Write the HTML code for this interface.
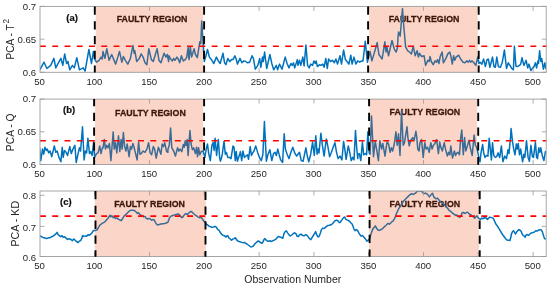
<!DOCTYPE html>
<html><head><meta charset="utf-8"><title>PCA monitoring charts</title>
<style>html,body{margin:0;padding:0;background:#fff}svg{display:block}text{font-family:"Liberation Sans", Arial, sans-serif}</style></head><body>
<svg width="550" height="286" viewBox="0 0 550 286">
<rect width="550" height="286" fill="#fff"/>
<g id="ax0">
<clipPath id="cp0"><rect x="40.0" y="6.4" width="506.20000000000005" height="65.89999999999999"/></clipPath>
<text x="116.7" y="22.1" font-size="9.8" font-weight="bold" fill="#000" stroke="#000" stroke-width="0.3" textLength="70.7" lengthAdjust="spacingAndGlyphs">FAULTY REGION</text>
<text x="388.7" y="22.1" font-size="9.8" font-weight="bold" fill="#000" stroke="#000" stroke-width="0.3" textLength="70.7" lengthAdjust="spacingAndGlyphs">FAULTY REGION</text>
<polyline clip-path="url(#cp0)" points="39.9,69.8 44.0,62.2 46.9,68.5 50.7,65.4 53.9,58.4 55.8,67.9 58.4,62.8 60.9,58.4 62.8,65.4 64.7,53.9 66.6,63.5 67.9,61.5 69.8,69.8 72.4,65.4 74.3,67.9 76.8,57.7 79.4,69.8 83.2,67.9 85.1,71.1 88.9,49.5 91.5,63.5 93.4,51.4 94.6,59.0 96.5,62.2 99.1,60.3 101.0,57.1 102.3,59.0 103.0,51.4 104.9,58.4 106.8,48.8 109.1,60.3 111.7,54.5 113.8,59.6 115.7,64.1 119.5,51.4 121.8,62.2 123.4,56.5 125.3,60.3 127.8,64.1 130.4,58.4 132.9,45.6 134.2,53.3 134.8,50.7 136.7,61.5 139.3,58.4 141.2,53.9 143.1,57.1 145.0,62.8 146.9,64.7 148.8,48.8 151.4,59.6 153.3,61.5 157.1,48.8 159.0,60.3 160.9,62.8 164.1,53.3 166.0,57.1 167.3,54.5 168.6,61.5 169.0,55.8 170.6,59.0 172.4,60.9 173.7,58.4 175.0,60.3 176.9,57.1 178.2,59.0 179.7,62.8 181.4,55.8 183.3,60.9 185.2,59.6 186.8,57.1 188.1,47.5 189.0,59.6 190.3,46.9 191.6,57.1 194.1,48.8 195.4,54.5 197.3,57.7 199.8,41.8 200.8,43.7 201.7,21.1 204.3,61.5 205.6,57.1 207.5,49.5 209.4,57.1 211.9,60.3 213.8,63.5 216.4,57.1 218.3,60.9 220.2,63.5 223.0,53.3 224.6,62.8 225.9,64.7 227.8,58.4 229.7,61.5 231.6,59.6 233.0,59.6 234.9,55.8 236.2,59.0 237.4,64.1 240.0,58.4 241.9,62.8 243.8,60.9 245.7,61.5 247.6,62.8 249.6,62.2 252.1,55.8 253.4,58.4 255.3,69.2 257.8,65.4 259.7,58.4 260.8,67.3 262.5,57.1 263.3,61.5 264.6,52.0 266.7,68.5 269.9,54.5 271.8,63.5 273.7,69.8 276.3,65.4 277.6,69.8 279.5,64.1 282.0,69.2 285.2,57.1 287.1,63.5 289.0,67.9 290.9,63.5 292.2,65.4 293.5,62.8 294.7,67.9 297.3,59.6 298.0,65.4 299.5,60.3 300.8,65.4 302.8,57.1 304.1,66.0 305.9,45.0 307.6,65.4 309.2,67.9 310.7,64.1 312.6,65.4 313.9,60.9 315.2,63.5 316.1,60.9 317.4,66.6 319.4,64.7 320.9,65.4 322.8,64.1 324.1,67.3 325.8,58.4 327.3,68.5 328.6,59.0 330.5,61.5 332.4,60.3 334.3,62.8 335.9,59.0 337.5,64.1 340.0,55.8 341.5,64.1 343.6,50.1 345.4,59.6 347.0,61.5 348.9,64.1 350.8,55.2 352.1,64.1 354.0,57.1 355.9,64.1 357.8,60.9 359.7,62.2 361.6,60.9 363.0,60.9 365.3,41.2 367.4,62.2 370.0,51.4 371.9,60.9 375.1,50.1 377.2,42.5 378.9,54.5 382.1,59.0 384.9,41.8 385.9,52.0 386.9,46.9 388.5,55.8 392.0,40.5 394.2,48.8 396.1,52.0 397.4,48.2 398.0,37.4 398.6,31.9 400.2,36.1 402.5,8.5 403.7,25.3 405.6,46.9 407.6,50.7 409.5,52.0 411.4,53.9 413.3,46.3 415.2,55.8 417.1,50.7 418.4,57.1 419.6,53.3 421.6,56.5 424.1,55.8 425.6,65.4 427.9,60.3 429.2,61.5 430.0,56.5 431.3,61.5 433.2,64.7 435.1,60.9 436.4,62.2 437.6,59.6 438.9,63.5 440.2,56.5 442.1,52.0 443.4,62.8 445.9,58.4 447.8,53.9 449.7,52.0 451.0,56.5 452.3,64.1 453.6,55.8 454.8,60.3 456.1,57.1 458.6,55.2 460.6,59.0 463.1,62.2 465.0,62.8 466.9,60.9 468.2,62.2 469.5,60.3 470.7,62.2 472.0,60.9 473.9,62.8 475.8,65.4 477.7,57.1 479.0,63.5 480.0,62.2 481.9,64.1 483.6,59.0 485.4,66.6 487.0,59.6 488.3,59.0 489.9,67.3 492.5,57.1 494.0,66.6 495.3,67.3 496.8,57.1 498.4,66.6 500.4,67.3 502.3,62.2 504.4,50.1 506.5,68.5 508.3,62.8 509.9,65.4 511.8,68.5 513.4,69.8 514.4,46.3 515.9,66.0 517.5,66.6 519.5,65.4 520.7,64.1 522.0,57.7 523.9,65.4 524.8,63.5 526.1,60.3 527.7,67.9 529.0,64.1 530.9,70.5 532.8,67.9 534.1,66.6 535.4,62.8 536.6,67.9 537.9,60.9 538.5,63.5 539.6,50.7 540.8,61.5 541.7,58.4 543.4,69.2 544.9,62.8 545.9,69.2" fill="none" stroke="#0072BD" stroke-width="1.5" stroke-linejoin="round"/>
<rect x="95.7" y="6.4" width="107.4" height="65.89999999999999" fill="#EE5C22" fill-opacity="0.25"/>
<rect x="369.1" y="6.4" width="108.6" height="65.89999999999999" fill="#EE5C22" fill-opacity="0.25"/>
<line x1="40.0" y1="46.3" x2="546.2" y2="46.3" stroke="#FF0000" stroke-width="1.6" stroke-dasharray="5.9 6.36"/>
<rect x="40.0" y="6.4" width="506.20000000000005" height="65.89999999999999" fill="none" stroke="#9c9c9c" stroke-width="0.9"/>
<text x="39.6" y="84.7" font-size="9.6" text-anchor="middle" fill="#262626">50</text>
<line x1="94.7" y1="72.3" x2="94.7" y2="67.8" stroke="#999999" stroke-width="0.8"/>
<line x1="94.7" y1="6.4" x2="94.7" y2="10.9" stroke="#999999" stroke-width="0.8"/>
<text x="94.4" y="84.7" font-size="9.6" text-anchor="middle" fill="#262626">100</text>
<line x1="149.5" y1="72.3" x2="149.5" y2="67.8" stroke="#999999" stroke-width="0.8"/>
<line x1="149.5" y1="6.4" x2="149.5" y2="10.9" stroke="#999999" stroke-width="0.8"/>
<text x="149.2" y="84.7" font-size="9.6" text-anchor="middle" fill="#262626">150</text>
<line x1="204.3" y1="72.3" x2="204.3" y2="67.8" stroke="#999999" stroke-width="0.8"/>
<line x1="204.3" y1="6.4" x2="204.3" y2="10.9" stroke="#999999" stroke-width="0.8"/>
<text x="204.0" y="84.7" font-size="9.6" text-anchor="middle" fill="#262626">200</text>
<line x1="259.1" y1="72.3" x2="259.1" y2="67.8" stroke="#999999" stroke-width="0.8"/>
<line x1="259.1" y1="6.4" x2="259.1" y2="10.9" stroke="#999999" stroke-width="0.8"/>
<text x="258.8" y="84.7" font-size="9.6" text-anchor="middle" fill="#262626">250</text>
<line x1="313.9" y1="72.3" x2="313.9" y2="67.8" stroke="#999999" stroke-width="0.8"/>
<line x1="313.9" y1="6.4" x2="313.9" y2="10.9" stroke="#999999" stroke-width="0.8"/>
<text x="313.6" y="84.7" font-size="9.6" text-anchor="middle" fill="#262626">300</text>
<line x1="368.7" y1="72.3" x2="368.7" y2="67.8" stroke="#999999" stroke-width="0.8"/>
<line x1="368.7" y1="6.4" x2="368.7" y2="10.9" stroke="#999999" stroke-width="0.8"/>
<text x="368.4" y="84.7" font-size="9.6" text-anchor="middle" fill="#262626">350</text>
<line x1="423.5" y1="72.3" x2="423.5" y2="67.8" stroke="#999999" stroke-width="0.8"/>
<line x1="423.5" y1="6.4" x2="423.5" y2="10.9" stroke="#999999" stroke-width="0.8"/>
<text x="423.2" y="84.7" font-size="9.6" text-anchor="middle" fill="#262626">400</text>
<line x1="478.3" y1="72.3" x2="478.3" y2="67.8" stroke="#999999" stroke-width="0.8"/>
<line x1="478.3" y1="6.4" x2="478.3" y2="10.9" stroke="#999999" stroke-width="0.8"/>
<text x="478.0" y="84.7" font-size="9.6" text-anchor="middle" fill="#262626">450</text>
<line x1="533.1" y1="72.3" x2="533.1" y2="67.8" stroke="#999999" stroke-width="0.8"/>
<line x1="533.1" y1="6.4" x2="533.1" y2="10.9" stroke="#999999" stroke-width="0.8"/>
<text x="532.8" y="84.7" font-size="9.6" text-anchor="middle" fill="#262626">500</text>
<line x1="40.0" y1="6.4" x2="44.5" y2="6.4" stroke="#999999" stroke-width="0.8"/>
<line x1="546.2" y1="6.4" x2="541.7" y2="6.4" stroke="#999999" stroke-width="0.8"/>
<text x="36.2" y="10.0" font-size="9.6" text-anchor="end" fill="#262626">0.7</text>
<line x1="40.0" y1="39.2" x2="44.5" y2="39.2" stroke="#999999" stroke-width="0.8"/>
<line x1="546.2" y1="39.2" x2="541.7" y2="39.2" stroke="#999999" stroke-width="0.8"/>
<text x="36.2" y="42.8" font-size="9.6" text-anchor="end" fill="#262626">0.65</text>
<line x1="40.0" y1="72.3" x2="44.5" y2="72.3" stroke="#999999" stroke-width="0.8"/>
<line x1="546.2" y1="72.3" x2="541.7" y2="72.3" stroke="#999999" stroke-width="0.8"/>
<text x="36.2" y="75.9" font-size="9.6" text-anchor="end" fill="#262626">0.6</text>
<line x1="94.8" y1="6.4" x2="94.8" y2="72.5" stroke="#000" stroke-width="1.9" stroke-dasharray="8.3 6.5" stroke-dashoffset="0"/>
<line x1="204.1" y1="6.4" x2="204.1" y2="72.5" stroke="#000" stroke-width="1.9" stroke-dasharray="8.3 6.5" stroke-dashoffset="0"/>
<line x1="368.1" y1="6.4" x2="368.1" y2="72.5" stroke="#000" stroke-width="1.9" stroke-dasharray="8.3 6.5" stroke-dashoffset="0"/>
<line x1="478.7" y1="6.4" x2="478.7" y2="72.5" stroke="#000" stroke-width="1.9" stroke-dasharray="8.3 6.5" stroke-dashoffset="0"/>
<text x="66.3" y="21.0" font-size="9.5" font-weight="bold" fill="#111" stroke="#111" stroke-width="0.2">(a)</text>
<text transform="translate(13.7,59.5) rotate(-90)" font-size="10" fill="#262626" textLength="35.3" lengthAdjust="spacingAndGlyphs">PCA - T</text>
<text transform="translate(8.9,23.4) rotate(-90)" font-size="8.2" fill="#262626">2</text>
</g>
<g id="ax1">
<clipPath id="cp1"><rect x="40.0" y="99.1" width="506.20000000000005" height="65.4"/></clipPath>
<text x="115.1" y="115.7" font-size="9.8" font-weight="bold" fill="#000" stroke="#000" stroke-width="0.3" textLength="70.7" lengthAdjust="spacingAndGlyphs">FAULTY REGION</text>
<text x="389.5" y="114.8" font-size="9.8" font-weight="bold" fill="#000" stroke="#000" stroke-width="0.3" textLength="70.7" lengthAdjust="spacingAndGlyphs">FAULTY REGION</text>
<polyline clip-path="url(#cp1)" points="39.5,147.2 40.8,160.6 42.5,149.1 43.7,154.2 45.0,147.2 46.3,150.4 47.2,149.1 48.8,152.9 50.1,151.0 51.8,156.7 54.3,145.9 55.8,152.3 57.1,151.0 59.0,157.4 60.9,161.8 62.2,147.2 63.2,157.4 64.5,150.4 66.0,152.3 67.5,155.5 69.8,146.6 71.3,153.6 73.0,149.1 74.9,145.3 76.2,162.5 78.1,153.6 79.4,147.8 80.6,151.0 82.5,126.7 84.1,159.9 85.3,151.0 86.6,152.9 87.9,138.3 89.5,153.6 90.8,151.6 92.1,155.5 93.6,142.1 94.6,157.4 96.5,153.6 98.1,152.9 99.7,145.9 101.0,153.6 102.3,147.8 103.0,147.8 104.3,139.6 105.5,149.1 106.8,145.3 108.1,147.8 109.4,143.4 110.9,160.6 113.2,131.9 114.2,149.1 115.5,142.7 116.8,152.9 118.5,135.7 119.8,151.6 121.1,139.6 122.1,149.1 123.4,132.6 124.6,146.6 125.9,151.0 127.2,144.0 129.1,156.7 130.4,146.6 131.6,149.1 132.9,143.4 134.2,147.8 137.1,159.9 138.6,142.1 139.9,154.2 141.2,153.6 143.1,151.0 145.0,152.3 146.9,149.1 148.6,142.7 150.1,152.9 151.6,154.8 153.3,146.6 154.6,149.1 156.2,158.0 158.4,147.2 159.6,150.4 160.9,154.2 162.2,144.0 163.5,146.6 164.7,142.7 166.6,151.6 167.9,152.3 168.0,149.1 169.3,145.3 170.6,128.1 171.8,147.8 173.7,151.0 175.4,156.1 177.6,147.8 178.8,151.0 180.1,149.1 181.8,151.6 183.3,144.6 184.3,147.2 185.2,140.8 186.1,145.3 187.1,139.6 188.1,155.5 189.9,130.6 191.2,144.6 192.4,149.7 193.7,147.8 195.4,153.6 196.6,147.2 197.5,156.7 198.6,147.8 199.8,154.8 201.1,151.6 203.0,151.0 204.9,157.4 206.2,149.1 207.5,144.0 208.7,153.6 210.3,160.6 211.9,145.3 213.2,142.7 214.1,150.4 215.1,138.3 216.6,155.5 218.3,139.6 219.6,157.4 220.4,161.2 222.1,155.5 224.0,141.4 225.3,154.2 226.3,152.3 227.8,157.4 229.7,157.4 231.0,158.6 233.0,145.9 234.0,147.2 235.3,160.6 236.2,151.6 237.4,161.2 239.1,156.1 240.4,151.6 241.7,160.6 242.9,151.0 244.4,157.4 245.7,156.1 247.6,154.8 248.5,159.3 250.2,146.6 251.4,155.5 252.7,152.9 254.0,151.0 255.7,145.9 257.8,152.9 259.7,158.0 261.3,160.6 262.9,154.2 264.4,121.6 266.4,161.2 268.0,154.2 269.9,149.7 271.8,160.6 273.5,153.6 275.0,152.3 276.3,155.5 277.8,149.1 279.5,156.1 280.7,159.9 282.6,162.5 284.2,133.8 285.4,149.1 287.1,154.2 289.0,158.6 290.9,152.3 292.8,147.2 294.7,152.9 296.6,156.1 298.0,154.2 299.5,152.3 301.2,160.6 303.1,161.2 304.6,154.2 305.9,147.8 307.2,155.5 308.8,161.8 310.7,154.2 312.6,142.1 314.3,155.5 315.8,135.7 317.1,154.2 318.1,149.1 319.0,152.9 320.9,133.2 322.2,144.0 324.1,156.1 326.3,138.9 327.9,146.6 329.6,156.7 331.4,152.3 333.0,147.8 334.9,142.7 336.4,151.6 338.1,158.6 340.0,156.1 341.9,159.9 343.6,141.4 344.8,149.1 346.1,159.3 348.3,145.9 349.6,151.6 351.2,160.6 352.7,157.4 354.0,159.9 355.5,130.6 356.8,149.1 357.8,158.6 358.0,154.2 359.3,153.6 360.8,160.6 362.4,142.1 363.7,154.8 365.4,153.6 366.6,154.8 367.9,131.8 369.2,152.9 370.1,154.2 371.5,115.9 373.5,156.7 375.2,141.4 376.8,150.4 378.4,160.6 379.9,140.8 381.6,149.1 382.8,143.4 385.0,156.1 387.0,142.1 388.6,144.0 390.1,152.3 391.4,147.8 392.6,151.0 394.3,144.0 395.9,131.8 397.2,145.3 398.5,133.8 400.0,155.5 401.5,110.9 403.2,145.3 404.5,142.7 407.0,126.7 407.9,137.6 409.2,145.9 410.8,140.2 412.7,137.6 414.0,140.8 415.9,131.3 416.8,137.6 417.8,149.1 419.1,151.0 420.0,142.7 421.5,139.6 423.2,157.4 424.8,142.7 426.1,149.1 427.6,147.2 429.2,152.3 430.8,142.7 432.1,149.1 433.4,145.3 435.0,143.4 436.6,139.6 438.4,153.6 439.7,142.1 441.0,147.8 442.3,151.0 444.2,142.7 445.5,149.1 447.4,156.1 448.6,152.3 449.9,154.8 450.8,145.9 452.5,158.0 454.4,151.0 455.6,155.5 456.9,152.9 458.2,152.3 459.5,154.8 460.7,137.6 461.8,130.0 463.3,154.8 464.6,137.6 465.8,151.0 467.4,145.9 469.0,140.2 470.3,147.8 472.2,155.5 474.1,135.1 475.4,145.3 476.6,147.2 477.9,152.9 479.6,161.2 480.0,161.8 481.0,152.9 482.6,144.6 483.8,153.6 485.1,157.4 486.4,155.5 487.9,156.1 489.2,138.3 491.4,159.9 492.5,142.7 493.8,155.5 495.3,157.4 496.6,156.7 498.1,152.9 499.7,157.4 501.4,145.9 502.9,161.8 504.8,156.1 506.5,158.6 508.0,149.7 509.0,153.6 510.6,136.4 511.1,128.6 512.5,141.4 513.7,149.1 515.0,154.8 516.3,144.0 517.2,149.1 518.2,143.4 519.5,154.8 520.7,149.1 522.6,161.8 523.9,154.2 524.8,157.4 526.5,140.8 528.1,157.4 529.4,161.2 530.9,145.3 532.4,156.7 533.5,157.4 535.4,142.1 536.6,157.4 537.5,158.6 538.8,147.8 539.8,152.3 540.8,147.8 542.4,156.1 543.9,160.6 545.5,151.0" fill="none" stroke="#0072BD" stroke-width="1.5" stroke-linejoin="round"/>
<rect x="95.0" y="99.1" width="108.0" height="65.4" fill="#EE5C22" fill-opacity="0.25"/>
<rect x="369.8" y="99.1" width="107.2" height="65.4" fill="#EE5C22" fill-opacity="0.25"/>
<line x1="40.0" y1="140.8" x2="546.2" y2="140.8" stroke="#FF0000" stroke-width="1.6" stroke-dasharray="5.9 6.36"/>
<rect x="40.0" y="99.1" width="506.20000000000005" height="65.4" fill="none" stroke="#9c9c9c" stroke-width="0.9"/>
<text x="39.6" y="176.9" font-size="9.6" text-anchor="middle" fill="#262626">50</text>
<line x1="94.7" y1="164.5" x2="94.7" y2="160.0" stroke="#999999" stroke-width="0.8"/>
<line x1="94.7" y1="99.1" x2="94.7" y2="103.6" stroke="#999999" stroke-width="0.8"/>
<text x="94.4" y="176.9" font-size="9.6" text-anchor="middle" fill="#262626">100</text>
<line x1="149.5" y1="164.5" x2="149.5" y2="160.0" stroke="#999999" stroke-width="0.8"/>
<line x1="149.5" y1="99.1" x2="149.5" y2="103.6" stroke="#999999" stroke-width="0.8"/>
<text x="149.2" y="176.9" font-size="9.6" text-anchor="middle" fill="#262626">150</text>
<line x1="204.3" y1="164.5" x2="204.3" y2="160.0" stroke="#999999" stroke-width="0.8"/>
<line x1="204.3" y1="99.1" x2="204.3" y2="103.6" stroke="#999999" stroke-width="0.8"/>
<text x="204.0" y="176.9" font-size="9.6" text-anchor="middle" fill="#262626">200</text>
<line x1="259.1" y1="164.5" x2="259.1" y2="160.0" stroke="#999999" stroke-width="0.8"/>
<line x1="259.1" y1="99.1" x2="259.1" y2="103.6" stroke="#999999" stroke-width="0.8"/>
<text x="258.8" y="176.9" font-size="9.6" text-anchor="middle" fill="#262626">250</text>
<line x1="313.9" y1="164.5" x2="313.9" y2="160.0" stroke="#999999" stroke-width="0.8"/>
<line x1="313.9" y1="99.1" x2="313.9" y2="103.6" stroke="#999999" stroke-width="0.8"/>
<text x="313.6" y="176.9" font-size="9.6" text-anchor="middle" fill="#262626">300</text>
<line x1="368.7" y1="164.5" x2="368.7" y2="160.0" stroke="#999999" stroke-width="0.8"/>
<line x1="368.7" y1="99.1" x2="368.7" y2="103.6" stroke="#999999" stroke-width="0.8"/>
<text x="368.4" y="176.9" font-size="9.6" text-anchor="middle" fill="#262626">350</text>
<line x1="423.5" y1="164.5" x2="423.5" y2="160.0" stroke="#999999" stroke-width="0.8"/>
<line x1="423.5" y1="99.1" x2="423.5" y2="103.6" stroke="#999999" stroke-width="0.8"/>
<text x="423.2" y="176.9" font-size="9.6" text-anchor="middle" fill="#262626">400</text>
<line x1="478.3" y1="164.5" x2="478.3" y2="160.0" stroke="#999999" stroke-width="0.8"/>
<line x1="478.3" y1="99.1" x2="478.3" y2="103.6" stroke="#999999" stroke-width="0.8"/>
<text x="478.0" y="176.9" font-size="9.6" text-anchor="middle" fill="#262626">450</text>
<line x1="533.1" y1="164.5" x2="533.1" y2="160.0" stroke="#999999" stroke-width="0.8"/>
<line x1="533.1" y1="99.1" x2="533.1" y2="103.6" stroke="#999999" stroke-width="0.8"/>
<text x="532.8" y="176.9" font-size="9.6" text-anchor="middle" fill="#262626">500</text>
<line x1="40.0" y1="99.1" x2="44.5" y2="99.1" stroke="#999999" stroke-width="0.8"/>
<line x1="546.2" y1="99.1" x2="541.7" y2="99.1" stroke="#999999" stroke-width="0.8"/>
<text x="36.2" y="102.1" font-size="9.6" text-anchor="end" fill="#262626">0.7</text>
<line x1="40.0" y1="131.8" x2="44.5" y2="131.8" stroke="#999999" stroke-width="0.8"/>
<line x1="546.2" y1="131.8" x2="541.7" y2="131.8" stroke="#999999" stroke-width="0.8"/>
<text x="36.2" y="134.8" font-size="9.6" text-anchor="end" fill="#262626">0.65</text>
<line x1="40.0" y1="164.5" x2="44.5" y2="164.5" stroke="#999999" stroke-width="0.8"/>
<line x1="546.2" y1="164.5" x2="541.7" y2="164.5" stroke="#999999" stroke-width="0.8"/>
<text x="36.2" y="167.5" font-size="9.6" text-anchor="end" fill="#262626">0.6</text>
<line x1="94.1" y1="99.1" x2="94.1" y2="164.7" stroke="#000" stroke-width="1.9" stroke-dasharray="8.3 6.5" stroke-dashoffset="1.2"/>
<line x1="204.1" y1="99.1" x2="204.1" y2="164.7" stroke="#000" stroke-width="1.9" stroke-dasharray="8.3 6.5" stroke-dashoffset="1.2"/>
<line x1="369.1" y1="99.1" x2="369.1" y2="164.7" stroke="#000" stroke-width="1.9" stroke-dasharray="8.3 6.5" stroke-dashoffset="1.2"/>
<line x1="478.2" y1="99.1" x2="478.2" y2="164.7" stroke="#000" stroke-width="1.9" stroke-dasharray="8.3 6.5" stroke-dashoffset="1.2"/>
<text x="63.1" y="113.0" font-size="9.5" font-weight="bold" fill="#111" stroke="#111" stroke-width="0.2">(b)</text>
<text transform="translate(14.0,132.3) rotate(-90)" font-size="10.3" fill="#262626" text-anchor="middle">PCA - Q</text>
</g>
<g id="ax2">
<clipPath id="cp2"><rect x="40.0" y="191.0" width="506.20000000000005" height="65.5"/></clipPath>
<text x="114.2" y="206.6" font-size="9.8" font-weight="bold" fill="#000" stroke="#000" stroke-width="0.3" textLength="70.7" lengthAdjust="spacingAndGlyphs">FAULTY REGION</text>
<text x="389.5" y="206.9" font-size="9.8" font-weight="bold" fill="#000" stroke="#000" stroke-width="0.3" textLength="70.7" lengthAdjust="spacingAndGlyphs">FAULTY REGION</text>
<polyline clip-path="url(#cp2)" points="39.9,235.9 41.8,236.8 43.7,237.8 45.4,238.1 46.6,238.7 48.2,237.8 49.7,237.8 51.4,236.8 53.0,236.2 54.5,235.2 55.8,233.9 57.1,232.4 58.1,234.7 59.4,235.6 60.6,236.8 61.9,235.6 63.2,237.2 64.7,236.8 66.0,238.1 67.5,239.4 69.2,238.7 70.8,239.4 72.4,240.6 73.9,239.0 75.2,240.3 76.4,241.5 78.1,242.6 79.4,241.0 80.6,240.6 81.9,238.1 82.5,235.6 83.8,236.4 85.3,235.9 86.6,236.2 87.9,234.7 89.2,235.3 90.4,234.3 91.7,233.4 93.0,231.1 94.0,230.4 95.9,230.4 97.2,229.8 98.5,227.3 99.7,225.4 101.6,223.7 104.5,222.2 106.2,220.3 107.8,218.4 109.1,216.8 110.0,215.2 110.9,216.8 111.9,215.8 113.2,217.7 114.5,217.1 115.7,218.4 117.2,218.1 118.5,219.4 119.8,219.9 121.1,220.7 122.3,219.0 123.4,217.1 124.4,215.8 125.7,214.6 127.2,213.3 128.5,211.8 130.0,210.5 131.6,210.3 133.3,210.2 134.8,210.7 136.1,212.0 137.4,213.5 138.4,212.6 139.7,214.3 140.9,215.2 142.5,215.8 143.7,216.8 145.0,216.4 146.3,218.4 147.6,219.0 149.1,218.4 150.3,219.0 151.6,220.3 152.9,219.6 154.2,219.9 155.2,222.2 156.5,224.1 157.7,225.0 159.3,224.5 160.9,224.1 162.8,223.8 164.7,223.5 166.6,222.8 167.9,222.2 169.3,218.4 170.6,216.4 172.1,215.8 173.7,215.2 175.4,214.8 176.9,214.3 178.4,213.9 179.7,215.2 180.7,216.4 182.0,217.7 183.3,216.4 184.6,214.3 186.1,213.5 187.3,214.6 188.6,213.3 189.9,212.0 190.9,211.4 192.2,212.2 193.5,213.5 195.0,214.8 196.6,215.8 198.3,217.1 199.8,217.7 201.1,217.1 202.4,219.0 203.6,220.9 204.9,222.2 206.2,224.1 207.5,224.7 208.7,226.0 210.3,226.6 211.9,227.3 213.6,227.0 215.0,226.3 216.3,227.2 217.6,229.4 218.8,230.1 220.1,232.2 221.6,234.3 222.9,235.2 224.6,235.8 225.8,237.1 227.1,235.8 227.7,235.6 229.0,238.1 230.3,239.0 231.6,240.3 232.8,239.0 234.1,238.6 235.4,237.7 236.4,239.6 237.7,240.9 239.2,241.6 240.5,241.9 242.0,242.4 243.3,242.8 244.5,242.4 245.8,243.5 247.1,244.1 248.3,245.0 249.6,246.0 250.9,247.0 252.2,246.6 253.4,246.0 254.7,244.1 256.0,242.8 257.3,241.6 258.3,240.9 259.6,241.9 260.8,242.8 262.1,243.2 263.1,241.6 264.0,239.6 264.9,238.6 265.9,239.9 267.2,240.9 268.5,241.2 270.0,240.7 271.3,241.6 272.5,240.9 273.8,240.3 275.1,239.6 276.4,238.6 277.6,237.3 278.6,236.4 279.9,237.1 281.5,237.5 282.8,238.3 283.8,234.1 285.1,231.6 286.4,230.9 287.6,232.8 288.9,234.7 290.2,236.0 291.7,235.0 293.4,233.5 294.6,232.8 295.9,233.7 297.2,236.3 298.4,236.6 299.7,234.7 301.0,234.1 302.6,235.4 304.2,235.8 305.5,234.7 306.7,235.0 308.0,236.6 309.5,238.6 310.8,239.6 312.1,237.5 313.4,235.4 314.6,233.5 315.6,231.6 316.7,234.7 317.9,237.0 319.2,236.3 320.5,232.8 321.4,229.6 322.6,228.1 323.9,228.6 325.2,227.7 326.5,226.4 327.7,225.6 329.4,225.2 330.9,224.8 332.4,223.9 333.7,222.2 335.0,220.7 336.6,220.1 337.9,220.7 339.2,222.6 340.0,222.5 341.3,220.8 342.6,218.9 343.8,217.4 344.8,217.0 345.7,219.2 347.0,219.9 348.3,220.4 349.6,221.4 350.8,222.7 352.1,224.0 353.0,226.3 354.0,229.1 355.0,230.6 356.3,229.7 357.6,230.4 358.8,232.9 360.1,234.8 361.0,236.1 362.3,235.5 363.6,236.7 364.8,238.3 366.1,239.9 367.0,241.2 368.0,240.3 369.0,239.9 370.0,237.4 370.8,234.8 371.8,231.6 372.8,229.1 373.7,228.1 374.6,226.8 375.4,225.9 376.3,227.8 377.2,229.1 378.2,230.1 379.5,230.4 380.7,229.7 382.0,229.1 383.3,227.8 384.6,226.6 385.8,225.5 387.1,224.2 388.1,223.4 389.4,224.2 390.7,223.0 391.9,221.7 393.2,220.8 394.5,218.7 395.4,216.4 396.3,213.8 397.3,211.9 398.2,209.6 400.1,206.4 402.0,203.3 403.9,200.7 405.8,198.8 407.7,196.9 409.6,195.0 411.6,193.7 413.4,194.4 415.4,193.1 417.3,191.2 419.2,190.8 421.1,191.2 422.4,191.8 423.6,193.7 425.6,193.1 427.5,194.4 429.4,196.9 431.3,194.4 432.6,193.3 433.8,196.9 435.7,198.8 437.6,198.2 439.6,200.7 441.5,202.6 443.4,203.9 445.3,205.8 447.2,207.7 449.1,210.3 451.0,211.6 452.9,213.5 454.8,214.7 455.0,215.2 456.5,214.9 458.2,216.4 459.8,217.4 461.1,215.6 462.0,213.0 463.3,212.4 464.6,213.4 465.8,213.0 467.1,212.1 468.4,213.0 469.6,214.3 470.9,214.7 472.2,216.2 473.4,216.8 474.7,218.1 476.0,216.8 476.9,215.9 477.9,217.4 479.2,218.7 480.5,219.4 481.7,218.1 483.0,218.7 484.5,217.7 486.2,218.1 487.5,219.4 488.7,218.1 490.0,217.1 491.6,217.6 493.3,218.2 494.4,220.9 496.0,224.2 497.6,226.4 499.3,229.1 500.9,231.8 502.5,234.5 504.2,236.7 505.8,238.9 506.9,240.0 508.5,240.2 509.9,240.5 510.7,237.8 511.5,234.0 512.4,231.8 513.5,230.7 514.5,232.4 515.6,234.0 516.7,231.8 517.8,230.7 518.9,229.6 520.0,230.2 521.1,231.3 522.2,234.0 523.3,235.6 524.4,236.2 525.1,237.3 526.0,235.1 527.1,234.5 528.2,235.4 529.3,234.8 530.4,233.4 531.5,232.9 533.1,232.6 534.7,231.8 535.8,230.7 537.1,231.1 538.5,230.2 540.0,229.6 541.3,230.0 542.1,231.3 542.9,233.4 543.7,236.2 544.5,238.4 545.6,239.4" fill="none" stroke="#0072BD" stroke-width="1.5" stroke-linejoin="round"/>
<rect x="94.8" y="191.0" width="111.1" height="65.5" fill="#EE5C22" fill-opacity="0.25"/>
<rect x="369.0" y="191.0" width="109.9" height="65.5" fill="#EE5C22" fill-opacity="0.25"/>
<line x1="40.0" y1="216.1" x2="546.2" y2="216.1" stroke="#FF0000" stroke-width="1.6" stroke-dasharray="5.9 6.36"/>
<rect x="40.0" y="191.0" width="506.20000000000005" height="65.5" fill="none" stroke="#9c9c9c" stroke-width="0.9"/>
<text x="39.6" y="268.9" font-size="9.6" text-anchor="middle" fill="#262626">50</text>
<line x1="94.7" y1="256.5" x2="94.7" y2="252.0" stroke="#999999" stroke-width="0.8"/>
<line x1="94.7" y1="191.0" x2="94.7" y2="195.5" stroke="#999999" stroke-width="0.8"/>
<text x="94.4" y="268.9" font-size="9.6" text-anchor="middle" fill="#262626">100</text>
<line x1="149.5" y1="256.5" x2="149.5" y2="252.0" stroke="#999999" stroke-width="0.8"/>
<line x1="149.5" y1="191.0" x2="149.5" y2="195.5" stroke="#999999" stroke-width="0.8"/>
<text x="149.2" y="268.9" font-size="9.6" text-anchor="middle" fill="#262626">150</text>
<line x1="204.3" y1="256.5" x2="204.3" y2="252.0" stroke="#999999" stroke-width="0.8"/>
<line x1="204.3" y1="191.0" x2="204.3" y2="195.5" stroke="#999999" stroke-width="0.8"/>
<text x="204.0" y="268.9" font-size="9.6" text-anchor="middle" fill="#262626">200</text>
<line x1="259.1" y1="256.5" x2="259.1" y2="252.0" stroke="#999999" stroke-width="0.8"/>
<line x1="259.1" y1="191.0" x2="259.1" y2="195.5" stroke="#999999" stroke-width="0.8"/>
<text x="258.8" y="268.9" font-size="9.6" text-anchor="middle" fill="#262626">250</text>
<line x1="313.9" y1="256.5" x2="313.9" y2="252.0" stroke="#999999" stroke-width="0.8"/>
<line x1="313.9" y1="191.0" x2="313.9" y2="195.5" stroke="#999999" stroke-width="0.8"/>
<text x="313.6" y="268.9" font-size="9.6" text-anchor="middle" fill="#262626">300</text>
<line x1="368.7" y1="256.5" x2="368.7" y2="252.0" stroke="#999999" stroke-width="0.8"/>
<line x1="368.7" y1="191.0" x2="368.7" y2="195.5" stroke="#999999" stroke-width="0.8"/>
<text x="368.4" y="268.9" font-size="9.6" text-anchor="middle" fill="#262626">350</text>
<line x1="423.5" y1="256.5" x2="423.5" y2="252.0" stroke="#999999" stroke-width="0.8"/>
<line x1="423.5" y1="191.0" x2="423.5" y2="195.5" stroke="#999999" stroke-width="0.8"/>
<text x="423.2" y="268.9" font-size="9.6" text-anchor="middle" fill="#262626">400</text>
<line x1="478.3" y1="256.5" x2="478.3" y2="252.0" stroke="#999999" stroke-width="0.8"/>
<line x1="478.3" y1="191.0" x2="478.3" y2="195.5" stroke="#999999" stroke-width="0.8"/>
<text x="478.0" y="268.9" font-size="9.6" text-anchor="middle" fill="#262626">450</text>
<line x1="533.1" y1="256.5" x2="533.1" y2="252.0" stroke="#999999" stroke-width="0.8"/>
<line x1="533.1" y1="191.0" x2="533.1" y2="195.5" stroke="#999999" stroke-width="0.8"/>
<text x="532.8" y="268.9" font-size="9.6" text-anchor="middle" fill="#262626">500</text>
<line x1="40.0" y1="195.3" x2="44.5" y2="195.3" stroke="#999999" stroke-width="0.8"/>
<line x1="546.2" y1="195.3" x2="541.7" y2="195.3" stroke="#999999" stroke-width="0.8"/>
<text x="36.2" y="199.4" font-size="9.6" text-anchor="end" fill="#262626">0.8</text>
<line x1="40.0" y1="226.4" x2="44.5" y2="226.4" stroke="#999999" stroke-width="0.8"/>
<line x1="546.2" y1="226.4" x2="541.7" y2="226.4" stroke="#999999" stroke-width="0.8"/>
<text x="36.2" y="230.5" font-size="9.6" text-anchor="end" fill="#262626">0.7</text>
<line x1="40.0" y1="256.5" x2="44.5" y2="256.5" stroke="#999999" stroke-width="0.8"/>
<line x1="546.2" y1="256.5" x2="541.7" y2="256.5" stroke="#999999" stroke-width="0.8"/>
<text x="36.2" y="260.6" font-size="9.6" text-anchor="end" fill="#262626">0.6</text>
<line x1="95.5" y1="191.0" x2="95.5" y2="256.7" stroke="#000" stroke-width="1.9" stroke-dasharray="8.3 6.5" stroke-dashoffset="0"/>
<line x1="205.5" y1="191.7" x2="205.5" y2="256.7" stroke="#000" stroke-width="1.9" stroke-dasharray="8.3 6.5" stroke-dashoffset="0"/>
<line x1="369.6" y1="191.0" x2="369.6" y2="256.7" stroke="#000" stroke-width="1.9" stroke-dasharray="8.3 6.5" stroke-dashoffset="0.6"/>
<line x1="479.7" y1="191.0" x2="479.7" y2="256.7" stroke="#000" stroke-width="1.9" stroke-dasharray="8.3 6.5" stroke-dashoffset="0"/>
<text x="60.0" y="205.3" font-size="9.5" font-weight="bold" fill="#111" stroke="#111" stroke-width="0.2">(c)</text>
<text transform="translate(19.0,223.7) rotate(-90)" font-size="10.7" fill="#262626" text-anchor="middle">PCA - KD</text>
</g>
<text x="292.8" y="282.6" font-size="10.5" text-anchor="middle" fill="#262626">Observation Number</text>
</svg></body></html>
